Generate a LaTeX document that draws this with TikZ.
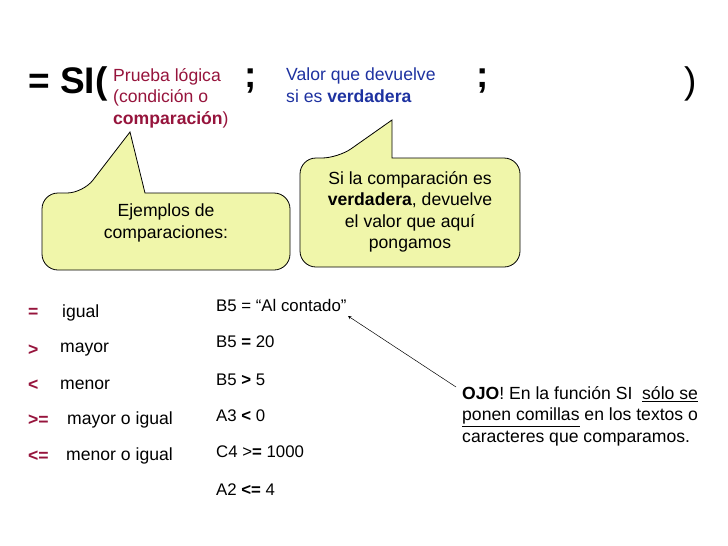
\documentclass[tikz,border=0pt]{standalone}
\usepackage{fontspec}
\setmainfont{Liberation Sans}
\definecolor{dred}{RGB}{150,20,60}
\definecolor{dblue}{RGB}{30,50,160}
\definecolor{bub}{RGB}{240,246,170}
\begin{document}
\begin{tikzpicture}[x=1pt,y=-1pt,
  t/.style={anchor=west,inner sep=0pt,font=\fontsize{16.8}{20}\selectfont},
  s/.style={anchor=west,inner sep=0pt,font=\fontsize{17.6}{21.5}\selectfont},
  big/.style={anchor=west,inner sep=0pt,font=\fontsize{37}{40}\selectfont\bfseries},
  bubble/.style={draw=black,fill=bub,line width=0.8pt}]
\useasboundingbox (0,0) rectangle (728,546);
% callouts
\draw[bubble] (145,193) [rounded corners=16pt] -- (290,193) -- (290,270) -- (42,270) -- (42,193) -- (83,193) [sharp corners] -- (130,132) -- cycle;
\draw[bubble] (392,158) [rounded corners=16pt] -- (520,158) -- (520,267) -- (300,267) -- (300,158) -- (338,158) [sharp corners] -- (392,120) -- cycle;
\node[s,anchor=center,align=center] (b1) at (166,223) {Ejemplos de\\comparaciones:};
\node[s,anchor=center,align=center] (b2) at (410,212) {Si la comparación es\\\textbf{verdadera}, devuelve\\el valor que aquí\\pongamos};
% formula
\node[big] (si) at (28,84) {= SI(};
\node[s,text=dred,anchor=north west,align=left] (p) at (113,68) {Prueba lógica\\(condición o\\\textbf{comparación})};
\node[big] (sc1) at (244,81) {;};
\node[s,text=dblue,anchor=north west,align=left] (v) at (286,68) {Valor que devuelve\\si es \textbf{verdadera}};
\node[big] (sc2) at (476,81) {;};
\node[big,font=\fontsize{37}{40}\selectfont] (cp) at (684,84) {)};
% operators
\foreach \y/\o/\w/\x [count=\i] in {313/=/igual/62, 350/>/mayor/60, 385/</menor/60, 420/>=/mayor o igual/67, 456/<=/menor o igual/66}{
  \node[s,text=dred,font=\fontsize{17.6}{20}\selectfont\bfseries] (o\i) at (28,\y) {\o};
  \node[s] (w\i) at (\x,\y) {\w};
}
\node[t] (e1) at (216,305) {B5 = “Al contado”};
\node[t] (e2) at (216,342) {B5 \textbf{=} 20};
\node[t] (e3) at (216,380) {B5 \textbf{>} 5};
\node[t] (e4) at (216,416) {A3 \textbf{<} 0};
\node[t] (e5) at (216,452) {C4 >\textbf{=} 1000};
\node[t] (e6) at (216,490) {A2 \textbf{<=} 4};
\node[s,anchor=north west,align=left] (ojo) at (462,386) {\textbf{OJO}! En la función SI\ \ \underline{sólo se}\\\underline{ponen comillas} en los textos o\\caracteres que comparamos.};
\coordinate (as) at (456,387);
\coordinate (at) at (348,316);
\draw[-stealth,line width=0.5pt] (as) -- (at);
\end{tikzpicture}
\end{document}
